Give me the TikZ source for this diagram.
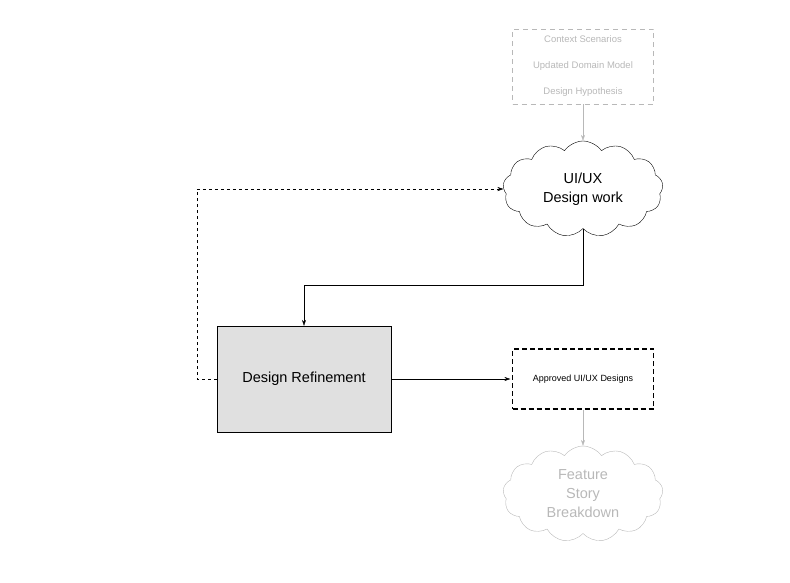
\documentclass[tikz,border=0pt]{standalone}
\usepackage{fontspec}
\setmainfont{Liberation Sans}
\usetikzlibrary{shapes,arrows,arrows.meta,calc,positioning}
\definecolor{faded}{HTML}{B8B8B8}
\definecolor{boxfill}{HTML}{E0E0E0}

\begin{document}
\begin{tikzpicture}[x=1pt,y=-1pt,>={Stealth[length=6pt,width=4pt]},
        work/.style={cloud, cloud puffs=13, cloud puff arc=110, aspect=1.7, draw,
                     minimum width=160pt, minimum height=96pt, align=center, font=\fontsize{14.5}{19}\selectfont},
        inbox/.style={draw=faded, dash pattern=on 5pt off 4pt, thick, minimum width=141pt, minimum height=75pt,
                     align=center, text=faded, font=\fontsize{9.5}{26}\selectfont},
        outbox/.style={draw, dash pattern=on 5pt off 3pt, very thick, minimum width=141pt, minimum height=60pt, font=\fontsize{9}{10}\selectfont}]

    \useasboundingbox (0,0) rectangle (790,582);

    \node[inbox] (I) at (583,66.5) {Context Scenarios\\Updated Domain Model\\Design Hypothesis};
    \node[work] (W) at (583,189) {UI/UX\\Design work};
    \node[draw, fill=boxfill, minimum width=174pt, minimum height=106pt,
          font=\fontsize{14.5}{17}\selectfont] (R) at (304,379) {Design Refinement};
    \node[outbox] (O) at (583,379) {Approved UI/UX Designs};
    \node[work, draw=faded, text=faded] (F) at (583,494) {Feature\\Story\\Breakdown};

    \draw[->, faded] (I.south) -- (W.north);
    \draw[->] (W.south) |- (304,285) -- (R.north);
    \draw[->, dashed] (R.west) -- ++(-20,0) |- (W.west);
    \draw[->, shorten >=1.5pt] (R.east) -- (O.west);
    \draw[->, faded] (O.south) -- (F.north);
\end{tikzpicture}
\end{document}
